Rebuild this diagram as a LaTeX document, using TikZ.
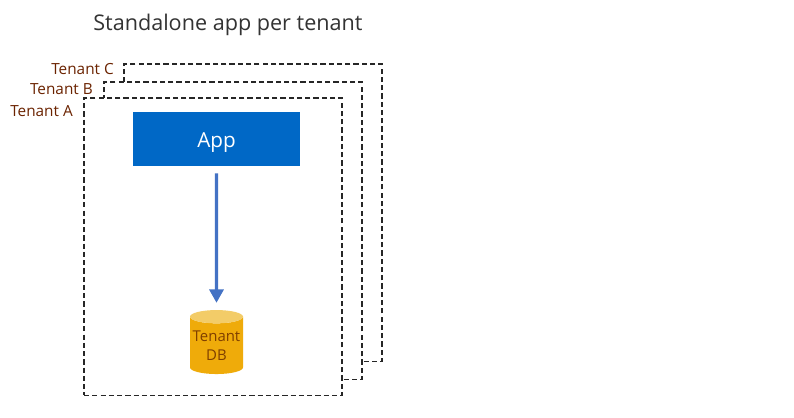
\documentclass[tikz,border=0pt]{standalone}
\usepackage{fontspec}
\setmainfont{Open Sans}
\usetikzlibrary{shapes.geometric,arrows.meta}
\definecolor{labelbrown}{HTML}{6B2300}
\definecolor{appblue}{HTML}{0068C6}
\definecolor{arrowblue}{HTML}{4472C4}
\definecolor{dbgold}{HTML}{EFAB0A}
\definecolor{dbtop}{HTML}{F3CC68}
\definecolor{dbtext}{HTML}{7F3F00}
\begin{document}
\begin{tikzpicture}[x=0.75pt,y=-0.75pt]
            \tikzset{
                tenantframe/.style={draw=black!85,fill=white,dash pattern=on 3.9pt off 2.3pt,line width=0.95pt,
                    minimum width=193.5pt,minimum height=223pt,inner sep=0pt,outer sep=0pt,anchor=north west},
                tenantlabel/.style={text=labelbrown,font=\fontsize{11.5pt}{13pt}\selectfont,anchor=east,inner sep=0pt},
                appbox/.style={fill=appblue,text=white,font=\fontsize{15.5pt}{18pt}\selectfont,text height=12pt,text depth=0pt,
                    minimum width=125.25pt,minimum height=40.5pt,inner sep=0pt},
                dbcyl/.style={cylinder,shape border rotate=90,aspect=0.28,cylinder uses custom fill,
                    cylinder body fill=dbgold,cylinder end fill=dbtop,text=dbtext,align=center,
                    font=\fontsize{11.2pt}{14.5pt}\selectfont,minimum width=39.75pt,minimum height=48pt,inner sep=0pt},
            }
            \useasboundingbox (0,0) rectangle (794,418);
            \fill[white] (0,0) rectangle (794,418);
            \node[text=black!80,font=\fontsize{16.2pt}{20pt}\selectfont,anchor=west,inner sep=0pt] (title) at (93,24.5) {Standalone app per tenant};
            % frames, back to front
            \node[tenantframe] (frameC) at (124,64) {};
            \node[tenantframe] (frameB) at (104,82) {};
            \node[tenantframe] (frameA) at (84,98) {};
            \node[tenantlabel] (labelC) at (114,69) {Tenant C};
            \node[tenantlabel] (labelB) at (93,89) {Tenant B};
            \node[tenantlabel] (labelA) at (73,111) {Tenant A};
            \node[appbox] (app) at (216.5,139) {App};
            \node[dbcyl] (db) at (216.5,345.5) {Tenant\\DB};
            \draw[arrowblue,line width=2.3pt,shorten <=5.25pt,shorten >=5.25pt,-{Triangle[length=10pt,width=10.5pt]}] (app) -- (db);
        \end{tikzpicture}
\end{document}
